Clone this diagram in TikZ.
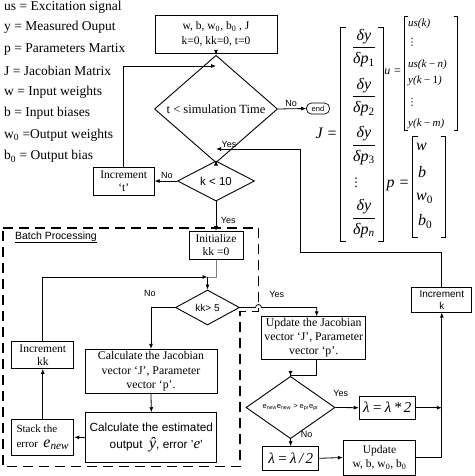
\documentclass[tikz,border=0pt]{standalone}
\usepackage{fontspec}
\setmainfont{Liberation Serif}
\setsansfont{Liberation Sans}
\newfontfamily\djv{DejaVu Sans}
\usetikzlibrary{shapes.geometric,arrows.meta,calc}
\newcommand{\frc}[2]{$\displaystyle\frac{\mbox{\itshape #1}}{\mbox{\itshape #2}}$}
\newcommand{\sbu}[1]{\textsubscript{\upshape #1}}
\tikzset{
  box/.style={draw, line width=0.9pt, inner sep=1pt, align=center, font=\fontsize{11.5}{13}\selectfont},
  dia/.style={draw, diamond, line width=0.9pt, inner sep=0pt, aspect=1, align=center},
  arr/.style={line width=0.8pt, -{Latex[length=5pt,width=4pt]}},
  lbl/.style={font=\sffamily\fontsize{9}{10}\selectfont, inner sep=0pt},
  leg/.style={anchor=west, inner sep=0pt, font=\fontsize{13.5}{15}\selectfont},
  dashbox/.style={line width=1.8pt, dash pattern=on 10pt off 6pt},
  brk/.style={line width=0.7pt},
  mth/.style={inner sep=0pt, font=\fontsize{16}{18}\selectfont\itshape},
  smth/.style={inner sep=0pt, anchor=west, font=\fontsize{11}{12}\selectfont\itshape},
  dots/.style={inner sep=0pt, font=\djv\fontsize{10}{10}\selectfont}
}
\begin{document}
\begin{tikzpicture}[x=1pt,y=-1pt]
\useasboundingbox (0,0) rectangle (474,476);
% legend
\node[leg] (l1) at (4,7) {us = Excitation signal};
\node[leg] (l2) at (4,27.6) {y = Measured Ouput};
\node[leg] (l3) at (4,49) {p = Parameters Martix};
\node[leg] (l4) at (4,70.5) {J = Jacobian Matrix};
\node[leg] (l5) at (4,92) {w = Input weights};
\node[leg] (l6) at (4,113.5) {b = Input biases};
\node[leg] (l7) at (4,135.1) {w\textsubscript{0} =Output weights};
\node[leg] (l8) at (4,156.7) {b\textsubscript{0} = Output bias};

% main column
\node[box, minimum width=122pt, minimum height=38pt, font=\fontsize{11.5}{15}\selectfont] (init) at (216,34) {w, b, w\textsubscript{0}, b\textsubscript{0} , J\\k=0, kk=0, t=0};
\node[dia, minimum width=123pt, minimum height=62pt, font=\fontsize{12.5}{14}\selectfont] (d1) at (216,109) {t < simulation Time};
\node[draw, rounded corners=5pt, line width=0.7pt, minimum width=23pt, minimum height=11pt, inner sep=0pt, font=\sffamily\fontsize{7.5}{8}\selectfont] (end) at (318,108.5) {end};
\node[dia, minimum width=77pt, minimum height=36pt, font=\sffamily\fontsize{11.5}{13}\selectfont] (d2) at (216,181) {k < 10};
\node[box, minimum width=61pt, minimum height=28pt] (inct) at (123.7,181) {Increment\\‘t’};
\node[box, minimum width=54pt, minimum height=28pt] (ikk) at (216,245.5) {Initialize\\kk =0};
\node[dia, minimum width=64pt, minimum height=35pt, font=\sffamily\fontsize{10}{12}\selectfont] (d3) at (207.5,307.5) {kk> 5};
\node[box, minimum width=132pt, minimum height=44pt, font=\fontsize{11.8}{14.5}\selectfont] (cj) at (151,371.3) {Calculate the Jacobian\\vector ‘J’, Parameter\\vector ‘p’.};
\node[box, minimum width=131pt, minimum height=50pt, font=\sffamily\fontsize{11.8}{17}\selectfont] (ce) at (151.3,437.7) {Calculate the estimated\\\hspace*{10pt}output \ {\fontsize{16}{16}\selectfont\rmfamily\itshape ŷ}, error '{\fontsize{15}{15}\selectfont\rmfamily\itshape e}'};
\node[box, minimum width=62pt, minimum height=36pt, align=left, font=\fontsize{11}{15}\selectfont] (st) at (42.8,437.2) {Stack the\\error \ {\fontsize{16}{16}\selectfont\itshape e\textsubscript{new}}};
\node[box, minimum width=62pt, minimum height=27pt] (ikk2) at (42.8,355) {Increment\\kk};

% right part
\node[box, minimum width=104pt, minimum height=42.6pt, font=\fontsize{11.8}{14}\selectfont] (uj) at (313.7,338) {Update the Jacobian\\vector ‘J’, Parameter\\vector ‘p’.};
\node[dia, minimum width=89pt, minimum height=45pt, font=\sffamily\fontsize{7.5}{9}\selectfont] (d4) at (290.5,407.5) {e\textsubscript{new}e\textsubscript{new} > e\textsubscript{pr}e\textsubscript{pr}};
\node[box, minimum width=56pt, minimum height=23.3pt, font=\fontsize{15}{16}\selectfont] (lam2) at (387.2,407.7) {\itshape λ\,=\,λ\,*\,2};
\node[box, minimum width=56pt, minimum height=23.3pt, font=\fontsize{15}{16}\selectfont] (lamh) at (290.8,458.3) {\itshape λ\,=\,λ\,/\,2};
\node[box, minimum width=72.4pt, minimum height=35pt, font=\fontsize{11.5}{14}\selectfont] (updw) at (379.5,457.5) {Update\\w, b, w\textsubscript{0}, b\textsubscript{0}};
\node[box, minimum width=60pt, minimum height=24.3pt, font=\sffamily\fontsize{10}{11.5}\selectfont] (inck) at (441.8,300) {Increment\\k};

% batch processing frame
\draw[dashbox] (2.7,228) -- (258.5,228) -- (258.5,311.5) -- (240,311.5) -- (240,466.5) -- (2.7,466.5) -- cycle;
\node[inner sep=0pt, font=\sffamily\fontsize{10.5}{12}\selectfont] (bp) at (56,237.3) {\underline{Batch Processing}};

% connectors
\coordinate (j1) at (216,66);
\coordinate (j2) at (216,149);
\coordinate (j3) at (207.5,277);
\draw[arr] (init.south) -- (d1.north);
\draw[arr] (inct.north) |- (j1);
\draw[arr] (d1.east) -- (end.west);
\draw[arr] (d1.south) -- (d2.north);
\draw[arr] (inck.north) |- (300.7,252.3) |- (j2);
\draw[arr] (d2.west) -- (inct.east);
\draw[arr] (d2.south) -- (ikk.north);
\draw[line width=0.6pt, gray] (ikk.south) |- (j3);
\draw[arr] (ikk2.north) |- (j3);
\draw[arr] (j3) -- (d3.north);
\draw[arr] (d3.west) -| (cj.north);
\draw[arr] (cj.south) -- (ce.north);
\draw[arr] (ce.west) -- (st.east);
\draw[arr] (st.north) -- (ikk2.south);
\draw[arr] (d3.east) -- (255.5,307.5) arc[start angle=180, end angle=360, radius=3] -- (316.7,307.5) -- ($(uj.north)+(3,0)$);
\draw[arr] ($(uj.south)+(3,0)$) |- (290.5,375) -- (d4.north);
\draw[arr] (d4.east) -- (lam2.west);
\draw[arr] (d4.south) -- (lamh.north);
\draw[arr] (lamh.east) -- (updw.west);
\draw[arr] (lam2.east) -- (441.8,407.7);
\draw[arr] (updw.east) -| (inck.south);

% labels
\node[lbl] (n1) at (291,103.5) {No};
\node[lbl] (y1) at (229,144) {Yes};
\node[lbl] (n2) at (167,175) {No};
\node[lbl] (y2) at (228.3,220.7) {Yes};
\node[lbl] (n3) at (150,293) {No};
\node[lbl] (y3) at (276.7,294.3) {Yes};
\node[lbl] (y4) at (340.7,393) {Yes};
\node[lbl] (n4) at (306.7,434) {No};

% J matrix
\node[mth] (Jl) at (326.5,133) {J =};
\draw[brk] (345.7,27) -- (340.7,27) -- (340.7,241.7) -- (345.7,241.7);
\draw[brk] (378,27) -- (383,27) -- (383,241.7) -- (378,241.7);
\node[mth] (f1) at (364,48) {\frc{δy}{δp\sbu{1}}};
\node[mth] (f2) at (364,97) {\frc{δy}{δp\sbu{2}}};
\node[mth] (f3) at (364,145.5) {\frc{δy}{δp\sbu{3}}};
\node[dots, font=\djv\fontsize{12}{12}\selectfont] (f4) at (356,183) {⋮};
\node[mth] (f5) at (364,218.5) {\frc{δy}{δp\textsubscript{n}}};

% u vector
\node[inner sep=0pt, font=\fontsize{12}{13}\selectfont\itshape] (ul) at (393,72) {u =};
\draw[brk] (408,16) -- (404,16) -- (404,130) -- (408,130);
\draw[brk] (453.7,16) -- (457.7,16) -- (457.7,130) -- (453.7,130);
\node[smth] (u1) at (408,24) {us(k)};
\node[dots, anchor=west] (u2) at (407,42) {⋮};
\node[smth] (u3) at (408,65) {us(k\,−\,n)};
\node[smth] (u4) at (408,81) {y(k\,−\,\upshape 1\itshape)};
\node[dots, anchor=west] (u5) at (407,102) {⋮};
\node[smth] (u6) at (408,124) {y(k\,−\,m)};

% p vector
\node[mth] (pl) at (398,185) {p =};
\draw[brk] (417.7,136.7) -- (412.7,136.7) -- (412.7,237.3) -- (417.7,237.3);
\draw[brk] (440.7,136.7) -- (445.7,136.7) -- (445.7,237.3) -- (440.7,237.3);
\node[mth, anchor=west] (p1) at (416,147) {w};
\node[mth, anchor=west] (p2) at (418,172.3) {b};
\node[mth, anchor=west] (p3) at (416,198.3) {w\sbu{0}};
\node[mth, anchor=west] (p4) at (418,221.7) {b\sbu{0}};
\end{tikzpicture}
\end{document}
